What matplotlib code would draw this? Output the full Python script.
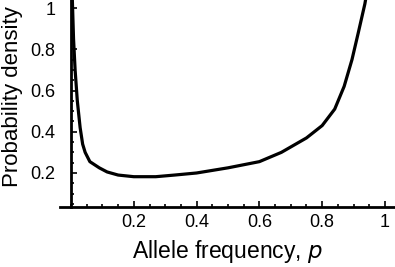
import numpy as np
import matplotlib
matplotlib.use("Agg")
from matplotlib import pyplot as plt
from matplotlib.ticker import MultipleLocator, FixedLocator, FixedFormatter

plt.rcParams['font.family'] = ['Liberation Sans', 'DejaVu Sans']

# curve
p = [0.003, 0.008, 0.013, 0.02, 0.029, 0.037, 0.045, 0.06, 0.09, 0.115,
     0.15, 0.2, 0.27, 0.33, 0.4, 0.5, 0.6, 0.67, 0.75, 0.8, 0.84, 0.87,
     0.895, 0.915, 0.936, 0.945]
density = [1.1, 0.85, 0.70, 0.55, 0.42, 0.34, 0.30, 0.255, 0.225, 0.205,
           0.19, 0.182, 0.182, 0.19, 0.20, 0.225, 0.255, 0.30, 0.37, 0.43,
           0.51, 0.62, 0.75, 0.88, 1.02, 1.1]

xticks = [0.2, 0.4, 0.6, 0.8, 1.0]
xticklabels = ['0.2', '0.4', '0.6', '0.8', '1']
yticks = [0.2, 0.4, 0.6, 0.8, 1.0]
yticklabels = ['0.2', '0.4', '0.6', '0.8', '1']

fig = plt.figure(figsize=(3.95, 2.67), dpi=100)
ax = fig.add_axes([0.152, 0.2247, 0.848, 0.7753])

ax.plot(p, density, color='black', lw=2.3, solid_joinstyle='round')

ax.set_xlim(-0.035, 1.032)
ax.set_ylim(0.035, 1.039)

for s in ['top', 'right']:
    ax.spines[s].set_visible(False)
ax.spines['left'].set_position(('data', 0))
ax.spines['left'].set_linewidth(2)
ax.spines['bottom'].set_linewidth(2)

ax.xaxis.set_major_locator(FixedLocator(xticks))
ax.xaxis.set_major_formatter(FixedFormatter(xticklabels))
ax.yaxis.set_major_locator(FixedLocator(yticks))
ax.yaxis.set_major_formatter(FixedFormatter(yticklabels))
ax.xaxis.set_minor_locator(MultipleLocator(0.05))
ax.yaxis.set_minor_locator(MultipleLocator(0.05))
ax.tick_params(which='major', direction='in', length=4, width=1.2, labelsize=13, pad=5)
ax.tick_params(which='minor', direction='in', length=2.5, width=1.2)
ax.tick_params(axis='y', which='major', pad=11)

ax.set_xlabel('Allele frequency, $\\it{p}$', fontsize=16.5, labelpad=5)
ax.set_ylabel('Probability density', fontsize=16, va='center')
ax.yaxis.set_label_coords(13 / 395, (267 - 97) / 267, transform=fig.transFigure)

fig.savefig('out.png', dpi=100)
